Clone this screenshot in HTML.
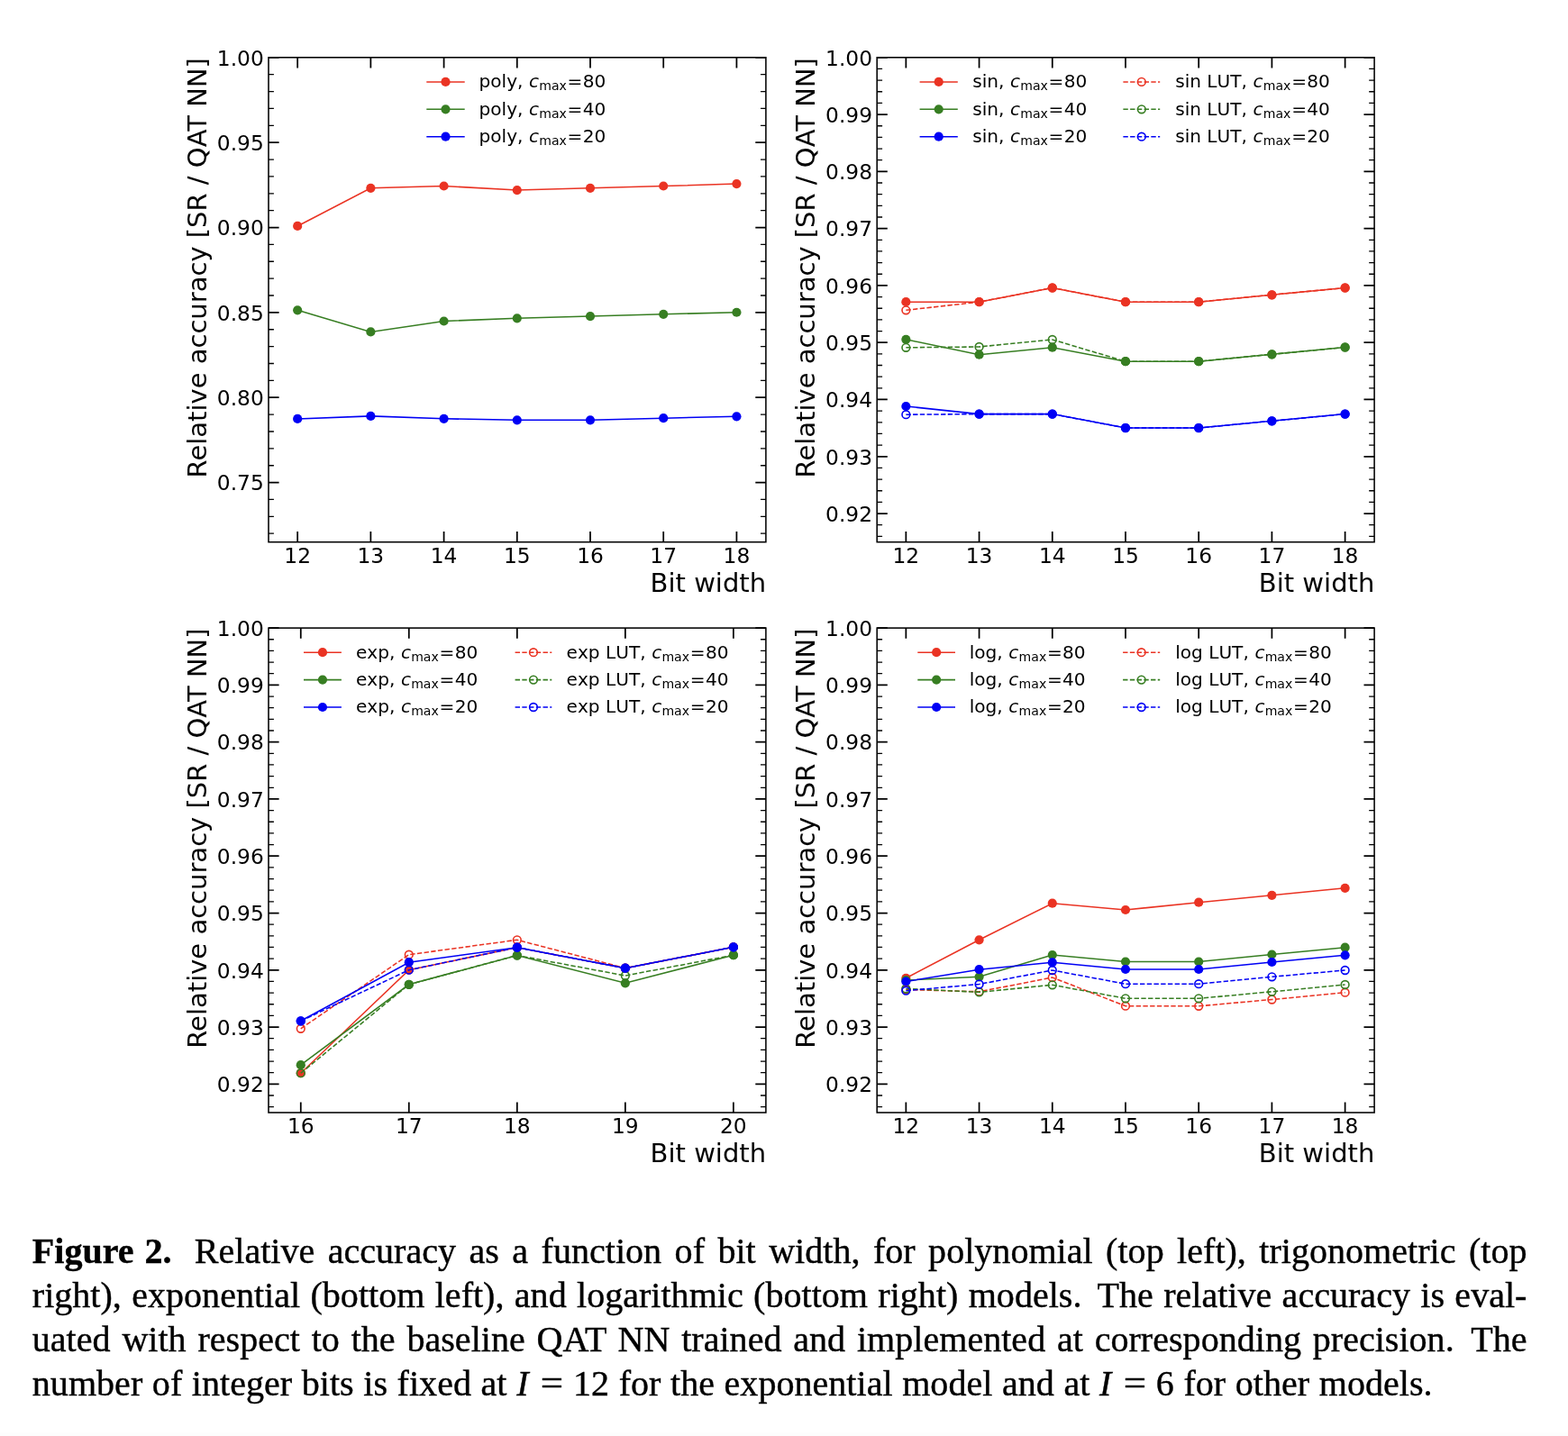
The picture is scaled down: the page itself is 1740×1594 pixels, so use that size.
<!DOCTYPE html>
<html lang="en">
<head>
<meta charset="utf-8">
<title>Figure 2</title>
<style>
html,body{margin:0;padding:0;background:#fff;}
body{width:1740px;height:1594px;position:relative;overflow:hidden;}
#fig{position:absolute;left:0;top:0;width:1740px;height:1330px;display:block;}
#cap{position:absolute;left:35.8px;top:1363.8px;width:1658.7px;-webkit-text-stroke:0.4px #000;font-family:"Liberation Serif","DejaVu Serif",serif;font-size:40.1px;line-height:49.1px;color:#000;}
#cap .l{display:block;height:49.1px;white-space:nowrap;text-align:justify;text-align-last:justify;}
#cap .l.last{text-align:left;text-align-last:left;word-spacing:0.6px;}
#cap b{font-weight:bold;}
#cap .sp{display:inline-block;width:0.16em;}
#cap .eq{display:inline-block;transform:scaleX(1.12);margin:0 0.31em 0 0.36em;}
#strip{position:absolute;left:0;top:1590px;width:1740px;height:4px;background:#fdfdfd;}
</style>
</head>
<body>
<div id="fig">
<svg width="1740" height="1330" viewBox="0 0 1740 1330" font-family="'DejaVu Sans', 'Liberation Sans', sans-serif" fill="#000">
<g>
<g stroke="#000" stroke-width="1.75" fill="none">
<path d="M330.16 601.7V590.1M330.16 63.8V75.4"/>
<path d="M411.37 601.7V590.1M411.37 63.8V75.4"/>
<path d="M492.58 601.7V590.1M492.58 63.8V75.4"/>
<path d="M573.79 601.7V590.1M573.79 63.8V75.4"/>
<path d="M655 601.7V590.1M655 63.8V75.4"/>
<path d="M736.21 601.7V590.1M736.21 63.8V75.4"/>
<path d="M817.42 601.7V590.1M817.42 63.8V75.4"/>
<path d="M298 63.8H309.6M849.9 63.8H838.3"/>
<path d="M298 158.16H309.6M849.9 158.16H838.3"/>
<path d="M298 252.52H309.6M849.9 252.52H838.3"/>
<path d="M298 346.88H309.6M849.9 346.88H838.3"/>
<path d="M298 441.24H309.6M849.9 441.24H838.3"/>
<path d="M298 535.6H309.6M849.9 535.6H838.3"/>
</g>
<g stroke="#000" stroke-width="1.3" fill="none">
<path d="M298 82.67H303.9M849.9 82.67H844M298 101.54H303.9M849.9 101.54H844M298 120.42H303.9M849.9 120.42H844M298 139.29H303.9M849.9 139.29H844M298 177.03H303.9M849.9 177.03H844M298 195.9H303.9M849.9 195.9H844M298 214.78H303.9M849.9 214.78H844M298 233.65H303.9M849.9 233.65H844M298 271.39H303.9M849.9 271.39H844M298 290.26H303.9M849.9 290.26H844M298 309.14H303.9M849.9 309.14H844M298 328.01H303.9M849.9 328.01H844M298 365.75H303.9M849.9 365.75H844M298 384.62H303.9M849.9 384.62H844M298 403.5H303.9M849.9 403.5H844M298 422.37H303.9M849.9 422.37H844M298 460.11H303.9M849.9 460.11H844M298 478.98H303.9M849.9 478.98H844M298 497.86H303.9M849.9 497.86H844M298 516.73H303.9M849.9 516.73H844M298 554.47H303.9M849.9 554.47H844M298 573.34H303.9M849.9 573.34H844M298 592.22H303.9M849.9 592.22H844"/>
</g>
<polyline points="330.16,250.95 411.37,208.8 492.58,206.5 573.79,211.05 655,208.8 736.21,206.5 817.42,204.1" fill="none" stroke="#EA3323" stroke-width="1.55"/>
<g fill="#EA3323"><circle cx="330.16" cy="250.95" r="5.1"/><circle cx="411.37" cy="208.8" r="5.1"/><circle cx="492.58" cy="206.5" r="5.1"/><circle cx="573.79" cy="211.05" r="5.1"/><circle cx="655" cy="208.8" r="5.1"/><circle cx="736.21" cy="206.5" r="5.1"/><circle cx="817.42" cy="204.1" r="5.1"/></g>
<polyline points="330.16,344.3 411.37,368.4 492.58,356.5 573.79,353.3 655,351.1 736.21,348.8 817.42,346.75" fill="none" stroke="#377E22" stroke-width="1.55"/>
<g fill="#377E22"><circle cx="330.16" cy="344.3" r="5.1"/><circle cx="411.37" cy="368.4" r="5.1"/><circle cx="492.58" cy="356.5" r="5.1"/><circle cx="573.79" cy="353.3" r="5.1"/><circle cx="655" cy="351.1" r="5.1"/><circle cx="736.21" cy="348.8" r="5.1"/><circle cx="817.42" cy="346.75" r="5.1"/></g>
<polyline points="330.16,464.9 411.37,461.9 492.58,464.8 573.79,466.3 655,466.3 736.21,464.2 817.42,462.3" fill="none" stroke="#0000F5" stroke-width="1.55"/>
<g fill="#0000F5"><circle cx="330.16" cy="464.9" r="5.1"/><circle cx="411.37" cy="461.9" r="5.1"/><circle cx="492.58" cy="464.8" r="5.1"/><circle cx="573.79" cy="466.3" r="5.1"/><circle cx="655" cy="466.3" r="5.1"/><circle cx="736.21" cy="464.2" r="5.1"/><circle cx="817.42" cy="462.3" r="5.1"/></g>
<rect x="298" y="63.8" width="551.9" height="537.9" fill="none" stroke="#000" stroke-width="1.55"/>
<g font-size="23.33" fill="#000">
<text x="330.16" y="624.9" text-anchor="middle">12</text>
<text x="411.37" y="624.9" text-anchor="middle">13</text>
<text x="492.58" y="624.9" text-anchor="middle">14</text>
<text x="573.79" y="624.9" text-anchor="middle">15</text>
<text x="655" y="624.9" text-anchor="middle">16</text>
<text x="736.21" y="624.9" text-anchor="middle">17</text>
<text x="817.42" y="624.9" text-anchor="middle">18</text>
<text x="292.8" y="72.6" text-anchor="end">1.00</text>
<text x="292.8" y="166.96" text-anchor="end">0.95</text>
<text x="292.8" y="261.32" text-anchor="end">0.90</text>
<text x="292.8" y="355.68" text-anchor="end">0.85</text>
<text x="292.8" y="450.04" text-anchor="end">0.80</text>
<text x="292.8" y="544.4" text-anchor="end">0.75</text>
</g>
<text x="850.1" y="657" text-anchor="end" font-size="29">Bit width</text>
<text transform="translate(229 64.1) rotate(-90)" text-anchor="end" font-size="29">Relative accuracy [SR / QAT NN]</text>
<path d="M473.3 90.9H515.7" stroke="#EA3323" stroke-width="1.55"/>
<circle cx="494.5" cy="90.9" r="5.1" fill="#EA3323"/>
<text x="531.5" y="97.3" font-size="20.1" style="font-kerning:none">poly, <tspan font-style="italic" dx="0.2">c</tspan><tspan font-size="14.07" dx="0.2" dy="3">max</tspan><tspan dx="0.7" dy="-3">=</tspan><tspan dx="0.3">80</tspan></text>
<path d="M473.3 121.3H515.7" stroke="#377E22" stroke-width="1.55"/>
<circle cx="494.5" cy="121.3" r="5.1" fill="#377E22"/>
<text x="531.5" y="127.7" font-size="20.1" style="font-kerning:none">poly, <tspan font-style="italic" dx="0.2">c</tspan><tspan font-size="14.07" dx="0.2" dy="3">max</tspan><tspan dx="0.7" dy="-3">=</tspan><tspan dx="0.3">40</tspan></text>
<path d="M473.3 151.7H515.7" stroke="#0000F5" stroke-width="1.55"/>
<circle cx="494.5" cy="151.7" r="5.1" fill="#0000F5"/>
<text x="531.5" y="158.1" font-size="20.1" style="font-kerning:none">poly, <tspan font-style="italic" dx="0.2">c</tspan><tspan font-size="14.07" dx="0.2" dy="3">max</tspan><tspan dx="0.7" dy="-3">=</tspan><tspan dx="0.3">20</tspan></text>
</g>
<g>
<g stroke="#000" stroke-width="1.75" fill="none">
<path d="M1005.36 601.7V590.1M1005.36 63.8V75.4"/>
<path d="M1086.57 601.7V590.1M1086.57 63.8V75.4"/>
<path d="M1167.78 601.7V590.1M1167.78 63.8V75.4"/>
<path d="M1248.99 601.7V590.1M1248.99 63.8V75.4"/>
<path d="M1330.2 601.7V590.1M1330.2 63.8V75.4"/>
<path d="M1411.41 601.7V590.1M1411.41 63.8V75.4"/>
<path d="M1492.62 601.7V590.1M1492.62 63.8V75.4"/>
<path d="M973.2 63.8H984.8M1525.1 63.8H1513.5"/>
<path d="M973.2 127.08H984.8M1525.1 127.08H1513.5"/>
<path d="M973.2 190.36H984.8M1525.1 190.36H1513.5"/>
<path d="M973.2 253.64H984.8M1525.1 253.64H1513.5"/>
<path d="M973.2 316.92H984.8M1525.1 316.92H1513.5"/>
<path d="M973.2 380.2H984.8M1525.1 380.2H1513.5"/>
<path d="M973.2 443.48H984.8M1525.1 443.48H1513.5"/>
<path d="M973.2 506.76H984.8M1525.1 506.76H1513.5"/>
<path d="M973.2 570.04H984.8M1525.1 570.04H1513.5"/>
</g>
<g stroke="#000" stroke-width="1.3" fill="none">
<path d="M973.2 76.46H979.1M1525.1 76.46H1519.2M973.2 89.11H979.1M1525.1 89.11H1519.2M973.2 101.77H979.1M1525.1 101.77H1519.2M973.2 114.42H979.1M1525.1 114.42H1519.2M973.2 139.74H979.1M1525.1 139.74H1519.2M973.2 152.39H979.1M1525.1 152.39H1519.2M973.2 165.05H979.1M1525.1 165.05H1519.2M973.2 177.7H979.1M1525.1 177.7H1519.2M973.2 203.02H979.1M1525.1 203.02H1519.2M973.2 215.67H979.1M1525.1 215.67H1519.2M973.2 228.33H979.1M1525.1 228.33H1519.2M973.2 240.98H979.1M1525.1 240.98H1519.2M973.2 266.3H979.1M1525.1 266.3H1519.2M973.2 278.95H979.1M1525.1 278.95H1519.2M973.2 291.61H979.1M1525.1 291.61H1519.2M973.2 304.26H979.1M1525.1 304.26H1519.2M973.2 329.58H979.1M1525.1 329.58H1519.2M973.2 342.23H979.1M1525.1 342.23H1519.2M973.2 354.89H979.1M1525.1 354.89H1519.2M973.2 367.54H979.1M1525.1 367.54H1519.2M973.2 392.86H979.1M1525.1 392.86H1519.2M973.2 405.51H979.1M1525.1 405.51H1519.2M973.2 418.17H979.1M1525.1 418.17H1519.2M973.2 430.82H979.1M1525.1 430.82H1519.2M973.2 456.14H979.1M1525.1 456.14H1519.2M973.2 468.79H979.1M1525.1 468.79H1519.2M973.2 481.45H979.1M1525.1 481.45H1519.2M973.2 494.1H979.1M1525.1 494.1H1519.2M973.2 519.42H979.1M1525.1 519.42H1519.2M973.2 532.07H979.1M1525.1 532.07H1519.2M973.2 544.73H979.1M1525.1 544.73H1519.2M973.2 557.38H979.1M1525.1 557.38H1519.2M973.2 582.7H979.1M1525.1 582.7H1519.2M973.2 595.35H979.1M1525.1 595.35H1519.2"/>
</g>
<polyline points="1005.36,335.2 1086.57,335.2 1167.78,319.5 1248.99,335.2 1330.2,335.2 1411.41,327.3 1492.62,319.5" fill="none" stroke="#EA3323" stroke-width="1.55"/>
<g fill="#EA3323"><circle cx="1005.36" cy="335.2" r="5.1"/><circle cx="1086.57" cy="335.2" r="5.1"/><circle cx="1167.78" cy="319.5" r="5.1"/><circle cx="1248.99" cy="335.2" r="5.1"/><circle cx="1330.2" cy="335.2" r="5.1"/><circle cx="1411.41" cy="327.3" r="5.1"/><circle cx="1492.62" cy="319.5" r="5.1"/></g>
<polyline points="1005.36,344.3 1086.57,335.2 1167.78,319.5 1248.99,335.2 1330.2,335.2 1411.41,327.3 1492.62,319.5" fill="none" stroke="#EA3323" stroke-width="1.55" stroke-dasharray="5.4 2.33"/>
<g fill="none" stroke="#EA3323" stroke-width="1.6"><circle cx="1005.36" cy="344.3" r="4.35"/><circle cx="1086.57" cy="335.2" r="4.35"/><circle cx="1167.78" cy="319.5" r="4.35"/><circle cx="1248.99" cy="335.2" r="4.35"/><circle cx="1330.2" cy="335.2" r="4.35"/><circle cx="1411.41" cy="327.3" r="4.35"/><circle cx="1492.62" cy="319.5" r="4.35"/></g>
<polyline points="1005.36,376.8 1086.57,393.7 1167.78,385.7 1248.99,401.2 1330.2,401.2 1411.41,393.3 1492.62,385.5" fill="none" stroke="#377E22" stroke-width="1.55"/>
<g fill="#377E22"><circle cx="1005.36" cy="376.8" r="5.1"/><circle cx="1086.57" cy="393.7" r="5.1"/><circle cx="1167.78" cy="385.7" r="5.1"/><circle cx="1248.99" cy="401.2" r="5.1"/><circle cx="1330.2" cy="401.2" r="5.1"/><circle cx="1411.41" cy="393.3" r="5.1"/><circle cx="1492.62" cy="385.5" r="5.1"/></g>
<polyline points="1005.36,385.8 1086.57,385 1167.78,377 1248.99,401.2 1330.2,401.2 1411.41,393.3 1492.62,385.5" fill="none" stroke="#377E22" stroke-width="1.55" stroke-dasharray="5.4 2.33"/>
<g fill="none" stroke="#377E22" stroke-width="1.6"><circle cx="1005.36" cy="385.8" r="4.35"/><circle cx="1086.57" cy="385" r="4.35"/><circle cx="1167.78" cy="377" r="4.35"/><circle cx="1248.99" cy="401.2" r="4.35"/><circle cx="1330.2" cy="401.2" r="4.35"/><circle cx="1411.41" cy="393.3" r="4.35"/><circle cx="1492.62" cy="385.5" r="4.35"/></g>
<polyline points="1005.36,451 1086.57,459.6 1167.78,459.6 1248.99,475 1330.2,475 1411.41,467.3 1492.62,459.6" fill="none" stroke="#0000F5" stroke-width="1.55"/>
<g fill="#0000F5"><circle cx="1005.36" cy="451" r="5.1"/><circle cx="1086.57" cy="459.6" r="5.1"/><circle cx="1167.78" cy="459.6" r="5.1"/><circle cx="1248.99" cy="475" r="5.1"/><circle cx="1330.2" cy="475" r="5.1"/><circle cx="1411.41" cy="467.3" r="5.1"/><circle cx="1492.62" cy="459.6" r="5.1"/></g>
<polyline points="1005.36,460.2 1086.57,459.6 1167.78,459.6 1248.99,475 1330.2,475 1411.41,467.3 1492.62,459.6" fill="none" stroke="#0000F5" stroke-width="1.55" stroke-dasharray="5.4 2.33"/>
<g fill="none" stroke="#0000F5" stroke-width="1.6"><circle cx="1005.36" cy="460.2" r="4.35"/><circle cx="1086.57" cy="459.6" r="4.35"/><circle cx="1167.78" cy="459.6" r="4.35"/><circle cx="1248.99" cy="475" r="4.35"/><circle cx="1330.2" cy="475" r="4.35"/><circle cx="1411.41" cy="467.3" r="4.35"/><circle cx="1492.62" cy="459.6" r="4.35"/></g>
<rect x="973.2" y="63.8" width="551.9" height="537.9" fill="none" stroke="#000" stroke-width="1.55"/>
<g font-size="23.33" fill="#000">
<text x="1005.36" y="624.9" text-anchor="middle">12</text>
<text x="1086.57" y="624.9" text-anchor="middle">13</text>
<text x="1167.78" y="624.9" text-anchor="middle">14</text>
<text x="1248.99" y="624.9" text-anchor="middle">15</text>
<text x="1330.2" y="624.9" text-anchor="middle">16</text>
<text x="1411.41" y="624.9" text-anchor="middle">17</text>
<text x="1492.62" y="624.9" text-anchor="middle">18</text>
<text x="968" y="72.6" text-anchor="end">1.00</text>
<text x="968" y="135.88" text-anchor="end">0.99</text>
<text x="968" y="199.16" text-anchor="end">0.98</text>
<text x="968" y="262.44" text-anchor="end">0.97</text>
<text x="968" y="325.72" text-anchor="end">0.96</text>
<text x="968" y="389" text-anchor="end">0.95</text>
<text x="968" y="452.28" text-anchor="end">0.94</text>
<text x="968" y="515.56" text-anchor="end">0.93</text>
<text x="968" y="578.84" text-anchor="end">0.92</text>
</g>
<text x="1525.3" y="657" text-anchor="end" font-size="29">Bit width</text>
<text transform="translate(904.2 64.1) rotate(-90)" text-anchor="end" font-size="29">Relative accuracy [SR / QAT NN]</text>
<path d="M1020.6 90.9H1062.8" stroke="#EA3323" stroke-width="1.55"/>
<circle cx="1041.7" cy="90.9" r="5.1" fill="#EA3323"/>
<text x="1079.2" y="97.3" font-size="20.1" style="font-kerning:none">sin, <tspan font-style="italic" dx="0.2">c</tspan><tspan font-size="14.07" dx="0.2" dy="3">max</tspan><tspan dx="0.7" dy="-3">=</tspan><tspan dx="0.3">80</tspan></text>
<path d="M1020.6 121.3H1062.8" stroke="#377E22" stroke-width="1.55"/>
<circle cx="1041.7" cy="121.3" r="5.1" fill="#377E22"/>
<text x="1079.2" y="127.7" font-size="20.1" style="font-kerning:none">sin, <tspan font-style="italic" dx="0.2">c</tspan><tspan font-size="14.07" dx="0.2" dy="3">max</tspan><tspan dx="0.7" dy="-3">=</tspan><tspan dx="0.3">40</tspan></text>
<path d="M1020.6 151.7H1062.8" stroke="#0000F5" stroke-width="1.55"/>
<circle cx="1041.7" cy="151.7" r="5.1" fill="#0000F5"/>
<text x="1079.2" y="158.1" font-size="20.1" style="font-kerning:none">sin, <tspan font-style="italic" dx="0.2">c</tspan><tspan font-size="14.07" dx="0.2" dy="3">max</tspan><tspan dx="0.7" dy="-3">=</tspan><tspan dx="0.3">20</tspan></text>
<path d="M1246.4 90.9H1287.2" stroke="#EA3323" stroke-width="1.55" stroke-dasharray="5.4 2.33"/>
<circle cx="1266.8" cy="90.9" r="4.35" fill="none" stroke="#EA3323" stroke-width="1.6"/>
<text x="1304.2" y="97.3" font-size="20.1" style="font-kerning:none">sin LUT, <tspan font-style="italic" dx="0.2">c</tspan><tspan font-size="14.07" dx="0.2" dy="3">max</tspan><tspan dx="0.7" dy="-3">=</tspan><tspan dx="0.3">80</tspan></text>
<path d="M1246.4 121.3H1287.2" stroke="#377E22" stroke-width="1.55" stroke-dasharray="5.4 2.33"/>
<circle cx="1266.8" cy="121.3" r="4.35" fill="none" stroke="#377E22" stroke-width="1.6"/>
<text x="1304.2" y="127.7" font-size="20.1" style="font-kerning:none">sin LUT, <tspan font-style="italic" dx="0.2">c</tspan><tspan font-size="14.07" dx="0.2" dy="3">max</tspan><tspan dx="0.7" dy="-3">=</tspan><tspan dx="0.3">40</tspan></text>
<path d="M1246.4 151.7H1287.2" stroke="#0000F5" stroke-width="1.55" stroke-dasharray="5.4 2.33"/>
<circle cx="1266.8" cy="151.7" r="4.35" fill="none" stroke="#0000F5" stroke-width="1.6"/>
<text x="1304.2" y="158.1" font-size="20.1" style="font-kerning:none">sin LUT, <tspan font-style="italic" dx="0.2">c</tspan><tspan font-size="14.07" dx="0.2" dy="3">max</tspan><tspan dx="0.7" dy="-3">=</tspan><tspan dx="0.3">20</tspan></text>
</g>
<g>
<g stroke="#000" stroke-width="1.75" fill="none">
<path d="M333.77 1235V1223.4M333.77 697.1V708.7"/>
<path d="M453.8 1235V1223.4M453.8 697.1V708.7"/>
<path d="M573.83 1235V1223.4M573.83 697.1V708.7"/>
<path d="M693.86 1235V1223.4M693.86 697.1V708.7"/>
<path d="M813.89 1235V1223.4M813.89 697.1V708.7"/>
<path d="M298 697.1H309.6M849.9 697.1H838.3"/>
<path d="M298 760.38H309.6M849.9 760.38H838.3"/>
<path d="M298 823.66H309.6M849.9 823.66H838.3"/>
<path d="M298 886.94H309.6M849.9 886.94H838.3"/>
<path d="M298 950.22H309.6M849.9 950.22H838.3"/>
<path d="M298 1013.5H309.6M849.9 1013.5H838.3"/>
<path d="M298 1076.78H309.6M849.9 1076.78H838.3"/>
<path d="M298 1140.06H309.6M849.9 1140.06H838.3"/>
<path d="M298 1203.34H309.6M849.9 1203.34H838.3"/>
</g>
<g stroke="#000" stroke-width="1.3" fill="none">
<path d="M298 709.76H303.9M849.9 709.76H844M298 722.41H303.9M849.9 722.41H844M298 735.07H303.9M849.9 735.07H844M298 747.72H303.9M849.9 747.72H844M298 773.04H303.9M849.9 773.04H844M298 785.69H303.9M849.9 785.69H844M298 798.35H303.9M849.9 798.35H844M298 811H303.9M849.9 811H844M298 836.32H303.9M849.9 836.32H844M298 848.97H303.9M849.9 848.97H844M298 861.63H303.9M849.9 861.63H844M298 874.28H303.9M849.9 874.28H844M298 899.6H303.9M849.9 899.6H844M298 912.25H303.9M849.9 912.25H844M298 924.91H303.9M849.9 924.91H844M298 937.56H303.9M849.9 937.56H844M298 962.88H303.9M849.9 962.88H844M298 975.53H303.9M849.9 975.53H844M298 988.19H303.9M849.9 988.19H844M298 1000.84H303.9M849.9 1000.84H844M298 1026.16H303.9M849.9 1026.16H844M298 1038.81H303.9M849.9 1038.81H844M298 1051.47H303.9M849.9 1051.47H844M298 1064.12H303.9M849.9 1064.12H844M298 1089.44H303.9M849.9 1089.44H844M298 1102.09H303.9M849.9 1102.09H844M298 1114.75H303.9M849.9 1114.75H844M298 1127.4H303.9M849.9 1127.4H844M298 1152.72H303.9M849.9 1152.72H844M298 1165.37H303.9M849.9 1165.37H844M298 1178.03H303.9M849.9 1178.03H844M298 1190.68H303.9M849.9 1190.68H844M298 1216H303.9M849.9 1216H844M298 1228.65H303.9M849.9 1228.65H844"/>
</g>
<polyline points="333.77,1191.2 453.8,1076.7 573.83,1051.7 693.86,1074.7 813.89,1051.3" fill="none" stroke="#EA3323" stroke-width="1.55"/>
<g fill="#EA3323"><circle cx="333.77" cy="1191.2" r="5.1"/><circle cx="453.8" cy="1076.7" r="5.1"/><circle cx="573.83" cy="1051.7" r="5.1"/><circle cx="693.86" cy="1074.7" r="5.1"/><circle cx="813.89" cy="1051.3" r="5.1"/></g>
<polyline points="333.77,1141.8 453.8,1059.7 573.83,1043.3 693.86,1074.7 813.89,1051.3" fill="none" stroke="#EA3323" stroke-width="1.55" stroke-dasharray="5.4 2.33"/>
<g fill="none" stroke="#EA3323" stroke-width="1.6"><circle cx="333.77" cy="1141.8" r="4.35"/><circle cx="453.8" cy="1059.7" r="4.35"/><circle cx="573.83" cy="1043.3" r="4.35"/><circle cx="693.86" cy="1074.7" r="4.35"/><circle cx="813.89" cy="1051.3" r="4.35"/></g>
<polyline points="333.77,1182.2 453.8,1092.8 573.83,1060.5 693.86,1091.3 813.89,1060.2" fill="none" stroke="#377E22" stroke-width="1.55"/>
<g fill="#377E22"><circle cx="333.77" cy="1182.2" r="5.1"/><circle cx="453.8" cy="1092.8" r="5.1"/><circle cx="573.83" cy="1060.5" r="5.1"/><circle cx="693.86" cy="1091.3" r="5.1"/><circle cx="813.89" cy="1060.2" r="5.1"/></g>
<polyline points="333.77,1191.2 453.8,1092.8 573.83,1060.5 693.86,1083 813.89,1060.2" fill="none" stroke="#377E22" stroke-width="1.55" stroke-dasharray="5.4 2.33"/>
<g fill="none" stroke="#377E22" stroke-width="1.6"><circle cx="333.77" cy="1191.2" r="4.35"/><circle cx="453.8" cy="1092.8" r="4.35"/><circle cx="573.83" cy="1060.5" r="4.35"/><circle cx="693.86" cy="1083" r="4.35"/><circle cx="813.89" cy="1060.2" r="4.35"/></g>
<polyline points="333.77,1133.3 453.8,1068.2 573.83,1051.7 693.86,1074.7 813.89,1051.3" fill="none" stroke="#0000F5" stroke-width="1.55"/>
<g fill="#0000F5"><circle cx="333.77" cy="1133.3" r="5.1"/><circle cx="453.8" cy="1068.2" r="5.1"/><circle cx="573.83" cy="1051.7" r="5.1"/><circle cx="693.86" cy="1074.7" r="5.1"/><circle cx="813.89" cy="1051.3" r="5.1"/></g>
<polyline points="333.77,1133.3 453.8,1076.7 573.83,1051.7 693.86,1074.7 813.89,1051.3" fill="none" stroke="#0000F5" stroke-width="1.55" stroke-dasharray="5.4 2.33"/>
<g fill="none" stroke="#0000F5" stroke-width="1.6"><circle cx="333.77" cy="1133.3" r="4.35"/><circle cx="453.8" cy="1076.7" r="4.35"/><circle cx="573.83" cy="1051.7" r="4.35"/><circle cx="693.86" cy="1074.7" r="4.35"/><circle cx="813.89" cy="1051.3" r="4.35"/></g>
<rect x="298" y="697.1" width="551.9" height="537.9" fill="none" stroke="#000" stroke-width="1.55"/>
<g font-size="23.33" fill="#000">
<text x="333.77" y="1258.2" text-anchor="middle">16</text>
<text x="453.8" y="1258.2" text-anchor="middle">17</text>
<text x="573.83" y="1258.2" text-anchor="middle">18</text>
<text x="693.86" y="1258.2" text-anchor="middle">19</text>
<text x="813.89" y="1258.2" text-anchor="middle">20</text>
<text x="292.8" y="705.9" text-anchor="end">1.00</text>
<text x="292.8" y="769.18" text-anchor="end">0.99</text>
<text x="292.8" y="832.46" text-anchor="end">0.98</text>
<text x="292.8" y="895.74" text-anchor="end">0.97</text>
<text x="292.8" y="959.02" text-anchor="end">0.96</text>
<text x="292.8" y="1022.3" text-anchor="end">0.95</text>
<text x="292.8" y="1085.58" text-anchor="end">0.94</text>
<text x="292.8" y="1148.86" text-anchor="end">0.93</text>
<text x="292.8" y="1212.14" text-anchor="end">0.92</text>
</g>
<text x="850.1" y="1290.3" text-anchor="end" font-size="29">Bit width</text>
<text transform="translate(229 697.4) rotate(-90)" text-anchor="end" font-size="29">Relative accuracy [SR / QAT NN]</text>
<path d="M337 724.2H378.9" stroke="#EA3323" stroke-width="1.55"/>
<circle cx="357.95" cy="724.2" r="5.1" fill="#EA3323"/>
<text x="394.9" y="730.6" font-size="20.1" style="font-kerning:none">exp, <tspan font-style="italic" dx="0.2">c</tspan><tspan font-size="14.07" dx="0.2" dy="3">max</tspan><tspan dx="0.7" dy="-3">=</tspan><tspan dx="0.3">80</tspan></text>
<path d="M337 754.6H378.9" stroke="#377E22" stroke-width="1.55"/>
<circle cx="357.95" cy="754.6" r="5.1" fill="#377E22"/>
<text x="394.9" y="761" font-size="20.1" style="font-kerning:none">exp, <tspan font-style="italic" dx="0.2">c</tspan><tspan font-size="14.07" dx="0.2" dy="3">max</tspan><tspan dx="0.7" dy="-3">=</tspan><tspan dx="0.3">40</tspan></text>
<path d="M337 785H378.9" stroke="#0000F5" stroke-width="1.55"/>
<circle cx="357.95" cy="785" r="5.1" fill="#0000F5"/>
<text x="394.9" y="791.4" font-size="20.1" style="font-kerning:none">exp, <tspan font-style="italic" dx="0.2">c</tspan><tspan font-size="14.07" dx="0.2" dy="3">max</tspan><tspan dx="0.7" dy="-3">=</tspan><tspan dx="0.3">20</tspan></text>
<path d="M571.6 724.2H612.3" stroke="#EA3323" stroke-width="1.55" stroke-dasharray="5.4 2.33"/>
<circle cx="591.95" cy="724.2" r="4.35" fill="none" stroke="#EA3323" stroke-width="1.6"/>
<text x="628.6" y="730.6" font-size="20.1" style="font-kerning:none">exp LUT, <tspan font-style="italic" dx="0.2">c</tspan><tspan font-size="14.07" dx="0.2" dy="3">max</tspan><tspan dx="0.7" dy="-3">=</tspan><tspan dx="0.3">80</tspan></text>
<path d="M571.6 754.6H612.3" stroke="#377E22" stroke-width="1.55" stroke-dasharray="5.4 2.33"/>
<circle cx="591.95" cy="754.6" r="4.35" fill="none" stroke="#377E22" stroke-width="1.6"/>
<text x="628.6" y="761" font-size="20.1" style="font-kerning:none">exp LUT, <tspan font-style="italic" dx="0.2">c</tspan><tspan font-size="14.07" dx="0.2" dy="3">max</tspan><tspan dx="0.7" dy="-3">=</tspan><tspan dx="0.3">40</tspan></text>
<path d="M571.6 785H612.3" stroke="#0000F5" stroke-width="1.55" stroke-dasharray="5.4 2.33"/>
<circle cx="591.95" cy="785" r="4.35" fill="none" stroke="#0000F5" stroke-width="1.6"/>
<text x="628.6" y="791.4" font-size="20.1" style="font-kerning:none">exp LUT, <tspan font-style="italic" dx="0.2">c</tspan><tspan font-size="14.07" dx="0.2" dy="3">max</tspan><tspan dx="0.7" dy="-3">=</tspan><tspan dx="0.3">20</tspan></text>
</g>
<g>
<g stroke="#000" stroke-width="1.75" fill="none">
<path d="M1005.36 1235V1223.4M1005.36 697.1V708.7"/>
<path d="M1086.57 1235V1223.4M1086.57 697.1V708.7"/>
<path d="M1167.78 1235V1223.4M1167.78 697.1V708.7"/>
<path d="M1248.99 1235V1223.4M1248.99 697.1V708.7"/>
<path d="M1330.2 1235V1223.4M1330.2 697.1V708.7"/>
<path d="M1411.41 1235V1223.4M1411.41 697.1V708.7"/>
<path d="M1492.62 1235V1223.4M1492.62 697.1V708.7"/>
<path d="M973.2 697.1H984.8M1525.1 697.1H1513.5"/>
<path d="M973.2 760.38H984.8M1525.1 760.38H1513.5"/>
<path d="M973.2 823.66H984.8M1525.1 823.66H1513.5"/>
<path d="M973.2 886.94H984.8M1525.1 886.94H1513.5"/>
<path d="M973.2 950.22H984.8M1525.1 950.22H1513.5"/>
<path d="M973.2 1013.5H984.8M1525.1 1013.5H1513.5"/>
<path d="M973.2 1076.78H984.8M1525.1 1076.78H1513.5"/>
<path d="M973.2 1140.06H984.8M1525.1 1140.06H1513.5"/>
<path d="M973.2 1203.34H984.8M1525.1 1203.34H1513.5"/>
</g>
<g stroke="#000" stroke-width="1.3" fill="none">
<path d="M973.2 709.76H979.1M1525.1 709.76H1519.2M973.2 722.41H979.1M1525.1 722.41H1519.2M973.2 735.07H979.1M1525.1 735.07H1519.2M973.2 747.72H979.1M1525.1 747.72H1519.2M973.2 773.04H979.1M1525.1 773.04H1519.2M973.2 785.69H979.1M1525.1 785.69H1519.2M973.2 798.35H979.1M1525.1 798.35H1519.2M973.2 811H979.1M1525.1 811H1519.2M973.2 836.32H979.1M1525.1 836.32H1519.2M973.2 848.97H979.1M1525.1 848.97H1519.2M973.2 861.63H979.1M1525.1 861.63H1519.2M973.2 874.28H979.1M1525.1 874.28H1519.2M973.2 899.6H979.1M1525.1 899.6H1519.2M973.2 912.25H979.1M1525.1 912.25H1519.2M973.2 924.91H979.1M1525.1 924.91H1519.2M973.2 937.56H979.1M1525.1 937.56H1519.2M973.2 962.88H979.1M1525.1 962.88H1519.2M973.2 975.53H979.1M1525.1 975.53H1519.2M973.2 988.19H979.1M1525.1 988.19H1519.2M973.2 1000.84H979.1M1525.1 1000.84H1519.2M973.2 1026.16H979.1M1525.1 1026.16H1519.2M973.2 1038.81H979.1M1525.1 1038.81H1519.2M973.2 1051.47H979.1M1525.1 1051.47H1519.2M973.2 1064.12H979.1M1525.1 1064.12H1519.2M973.2 1089.44H979.1M1525.1 1089.44H1519.2M973.2 1102.09H979.1M1525.1 1102.09H1519.2M973.2 1114.75H979.1M1525.1 1114.75H1519.2M973.2 1127.4H979.1M1525.1 1127.4H1519.2M973.2 1152.72H979.1M1525.1 1152.72H1519.2M973.2 1165.37H979.1M1525.1 1165.37H1519.2M973.2 1178.03H979.1M1525.1 1178.03H1519.2M973.2 1190.68H979.1M1525.1 1190.68H1519.2M973.2 1216H979.1M1525.1 1216H1519.2M973.2 1228.65H979.1M1525.1 1228.65H1519.2"/>
</g>
<polyline points="1005.36,1085.8 1086.57,1043.3 1167.78,1002.7 1248.99,1010 1330.2,1001.7 1411.41,993.8 1492.62,985.8" fill="none" stroke="#EA3323" stroke-width="1.55"/>
<g fill="#EA3323"><circle cx="1005.36" cy="1085.8" r="5.1"/><circle cx="1086.57" cy="1043.3" r="5.1"/><circle cx="1167.78" cy="1002.7" r="5.1"/><circle cx="1248.99" cy="1010" r="5.1"/><circle cx="1330.2" cy="1001.7" r="5.1"/><circle cx="1411.41" cy="993.8" r="5.1"/><circle cx="1492.62" cy="985.8" r="5.1"/></g>
<polyline points="1005.36,1098.5 1086.57,1100.8 1167.78,1085 1248.99,1116.7 1330.2,1116.8 1411.41,1109.5 1492.62,1101.7" fill="none" stroke="#EA3323" stroke-width="1.55" stroke-dasharray="5.4 2.33"/>
<g fill="none" stroke="#EA3323" stroke-width="1.6"><circle cx="1005.36" cy="1098.5" r="4.35"/><circle cx="1086.57" cy="1100.8" r="4.35"/><circle cx="1167.78" cy="1085" r="4.35"/><circle cx="1248.99" cy="1116.7" r="4.35"/><circle cx="1330.2" cy="1116.8" r="4.35"/><circle cx="1411.41" cy="1109.5" r="4.35"/><circle cx="1492.62" cy="1101.7" r="4.35"/></g>
<polyline points="1005.36,1088 1086.57,1084.3 1167.78,1060 1248.99,1067.5 1330.2,1067.5 1411.41,1059.5 1492.62,1051.7" fill="none" stroke="#377E22" stroke-width="1.55"/>
<g fill="#377E22"><circle cx="1005.36" cy="1088" r="5.1"/><circle cx="1086.57" cy="1084.3" r="5.1"/><circle cx="1167.78" cy="1060" r="5.1"/><circle cx="1248.99" cy="1067.5" r="5.1"/><circle cx="1330.2" cy="1067.5" r="5.1"/><circle cx="1411.41" cy="1059.5" r="5.1"/><circle cx="1492.62" cy="1051.7" r="5.1"/></g>
<polyline points="1005.36,1097.5 1086.57,1101.3 1167.78,1093.3 1248.99,1108.3 1330.2,1108.3 1411.41,1100.8 1492.62,1093" fill="none" stroke="#377E22" stroke-width="1.55" stroke-dasharray="5.4 2.33"/>
<g fill="none" stroke="#377E22" stroke-width="1.6"><circle cx="1005.36" cy="1097.5" r="4.35"/><circle cx="1086.57" cy="1101.3" r="4.35"/><circle cx="1167.78" cy="1093.3" r="4.35"/><circle cx="1248.99" cy="1108.3" r="4.35"/><circle cx="1330.2" cy="1108.3" r="4.35"/><circle cx="1411.41" cy="1100.8" r="4.35"/><circle cx="1492.62" cy="1093" r="4.35"/></g>
<polyline points="1005.36,1089.5 1086.57,1076.2 1167.78,1068.3 1248.99,1076 1330.2,1076 1411.41,1068 1492.62,1060.3" fill="none" stroke="#0000F5" stroke-width="1.55"/>
<g fill="#0000F5"><circle cx="1005.36" cy="1089.5" r="5.1"/><circle cx="1086.57" cy="1076.2" r="5.1"/><circle cx="1167.78" cy="1068.3" r="5.1"/><circle cx="1248.99" cy="1076" r="5.1"/><circle cx="1330.2" cy="1076" r="5.1"/><circle cx="1411.41" cy="1068" r="5.1"/><circle cx="1492.62" cy="1060.3" r="5.1"/></g>
<polyline points="1005.36,1099.7 1086.57,1092.5 1167.78,1077 1248.99,1092.2 1330.2,1092.2 1411.41,1084.3 1492.62,1077" fill="none" stroke="#0000F5" stroke-width="1.55" stroke-dasharray="5.4 2.33"/>
<g fill="none" stroke="#0000F5" stroke-width="1.6"><circle cx="1005.36" cy="1099.7" r="4.35"/><circle cx="1086.57" cy="1092.5" r="4.35"/><circle cx="1167.78" cy="1077" r="4.35"/><circle cx="1248.99" cy="1092.2" r="4.35"/><circle cx="1330.2" cy="1092.2" r="4.35"/><circle cx="1411.41" cy="1084.3" r="4.35"/><circle cx="1492.62" cy="1077" r="4.35"/></g>
<rect x="973.2" y="697.1" width="551.9" height="537.9" fill="none" stroke="#000" stroke-width="1.55"/>
<g font-size="23.33" fill="#000">
<text x="1005.36" y="1258.2" text-anchor="middle">12</text>
<text x="1086.57" y="1258.2" text-anchor="middle">13</text>
<text x="1167.78" y="1258.2" text-anchor="middle">14</text>
<text x="1248.99" y="1258.2" text-anchor="middle">15</text>
<text x="1330.2" y="1258.2" text-anchor="middle">16</text>
<text x="1411.41" y="1258.2" text-anchor="middle">17</text>
<text x="1492.62" y="1258.2" text-anchor="middle">18</text>
<text x="968" y="705.9" text-anchor="end">1.00</text>
<text x="968" y="769.18" text-anchor="end">0.99</text>
<text x="968" y="832.46" text-anchor="end">0.98</text>
<text x="968" y="895.74" text-anchor="end">0.97</text>
<text x="968" y="959.02" text-anchor="end">0.96</text>
<text x="968" y="1022.3" text-anchor="end">0.95</text>
<text x="968" y="1085.58" text-anchor="end">0.94</text>
<text x="968" y="1148.86" text-anchor="end">0.93</text>
<text x="968" y="1212.14" text-anchor="end">0.92</text>
</g>
<text x="1525.3" y="1290.3" text-anchor="end" font-size="29">Bit width</text>
<text transform="translate(904.2 697.4) rotate(-90)" text-anchor="end" font-size="29">Relative accuracy [SR / QAT NN]</text>
<path d="M1018.3 724.2H1060" stroke="#EA3323" stroke-width="1.55"/>
<circle cx="1039.15" cy="724.2" r="5.1" fill="#EA3323"/>
<text x="1075.7" y="730.6" font-size="20.1" style="font-kerning:none">log, <tspan font-style="italic" dx="0.2">c</tspan><tspan font-size="14.07" dx="0.2" dy="3">max</tspan><tspan dx="0.7" dy="-3">=</tspan><tspan dx="0.3">80</tspan></text>
<path d="M1018.3 754.6H1060" stroke="#377E22" stroke-width="1.55"/>
<circle cx="1039.15" cy="754.6" r="5.1" fill="#377E22"/>
<text x="1075.7" y="761" font-size="20.1" style="font-kerning:none">log, <tspan font-style="italic" dx="0.2">c</tspan><tspan font-size="14.07" dx="0.2" dy="3">max</tspan><tspan dx="0.7" dy="-3">=</tspan><tspan dx="0.3">40</tspan></text>
<path d="M1018.3 785H1060" stroke="#0000F5" stroke-width="1.55"/>
<circle cx="1039.15" cy="785" r="5.1" fill="#0000F5"/>
<text x="1075.7" y="791.4" font-size="20.1" style="font-kerning:none">log, <tspan font-style="italic" dx="0.2">c</tspan><tspan font-size="14.07" dx="0.2" dy="3">max</tspan><tspan dx="0.7" dy="-3">=</tspan><tspan dx="0.3">20</tspan></text>
<path d="M1246.1 724.2H1287.2" stroke="#EA3323" stroke-width="1.55" stroke-dasharray="5.4 2.33"/>
<circle cx="1266.65" cy="724.2" r="4.35" fill="none" stroke="#EA3323" stroke-width="1.6"/>
<text x="1304.2" y="730.6" font-size="20.1" style="font-kerning:none">log LUT, <tspan font-style="italic" dx="0.2">c</tspan><tspan font-size="14.07" dx="0.2" dy="3">max</tspan><tspan dx="0.7" dy="-3">=</tspan><tspan dx="0.3">80</tspan></text>
<path d="M1246.1 754.6H1287.2" stroke="#377E22" stroke-width="1.55" stroke-dasharray="5.4 2.33"/>
<circle cx="1266.65" cy="754.6" r="4.35" fill="none" stroke="#377E22" stroke-width="1.6"/>
<text x="1304.2" y="761" font-size="20.1" style="font-kerning:none">log LUT, <tspan font-style="italic" dx="0.2">c</tspan><tspan font-size="14.07" dx="0.2" dy="3">max</tspan><tspan dx="0.7" dy="-3">=</tspan><tspan dx="0.3">40</tspan></text>
<path d="M1246.1 785H1287.2" stroke="#0000F5" stroke-width="1.55" stroke-dasharray="5.4 2.33"/>
<circle cx="1266.65" cy="785" r="4.35" fill="none" stroke="#0000F5" stroke-width="1.6"/>
<text x="1304.2" y="791.4" font-size="20.1" style="font-kerning:none">log LUT, <tspan font-style="italic" dx="0.2">c</tspan><tspan font-size="14.07" dx="0.2" dy="3">max</tspan><tspan dx="0.7" dy="-3">=</tspan><tspan dx="0.3">20</tspan></text>
</g>
</svg>
</div>
<div id="cap">
<span class="l"><b>Figure<span class="sp" style="width:11.8px"></span>2.</b><span class="sp" style="width:.27em"></span> Relative accuracy as a function of bit width, for polynomial (top left), trigonometric (top</span>
<span class="l">right), exponential (bottom left), and logarithmic (bottom right) models.<span class="sp"></span> The relative accuracy is eval-</span>
<span class="l">uated with respect to the baseline QAT NN trained and implemented at corresponding precision.<span class="sp"></span> The</span>
<span class="l last">number of integer bits is fixed at <i>I</i><span class="eq">=</span>12 for the exponential model and at <i>I</i><span class="eq">=</span>6 for other models.</span>
</div>
<div id="strip"></div>
</body>
</html>
